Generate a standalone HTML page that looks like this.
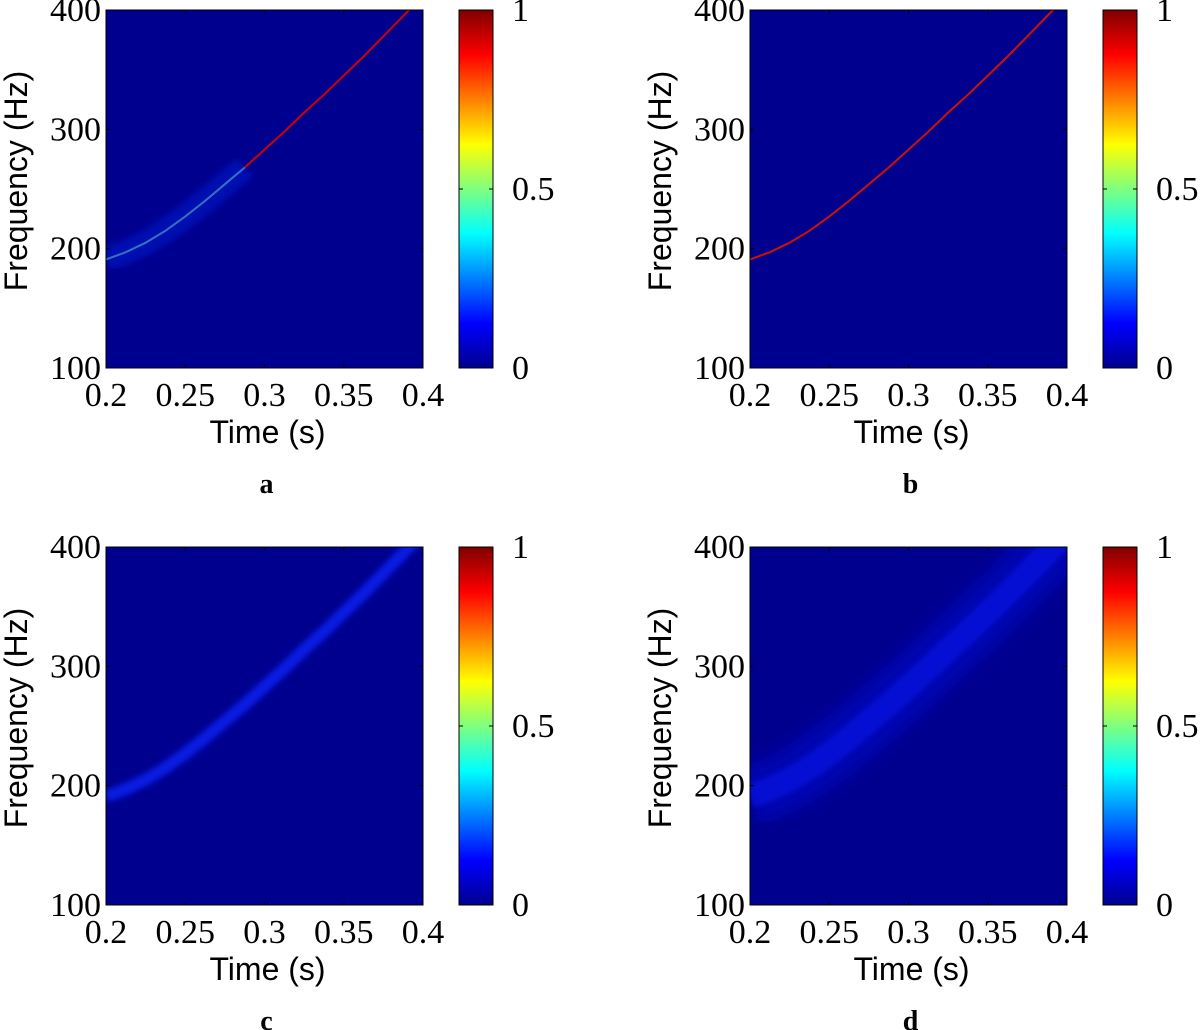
<!DOCTYPE html>
<html><head><meta charset="utf-8"><style>
body{margin:0;background:#fff}
svg{display:block}
.num{font-family:"Liberation Serif",serif;font-size:34px;fill:#000}
.lab{font-family:"Liberation Sans",sans-serif;font-size:32px;fill:#000}
.let{font-family:"Liberation Serif",serif;font-size:28px;font-weight:bold;fill:#000}
</style></head><body>
<svg id="fig" width="1200" height="1030" xmlns="http://www.w3.org/2000/svg">
<defs>
<linearGradient id="jet" x1="0" y1="1" x2="0" y2="0">
<stop offset="0" stop-color="#00008f"/><stop offset="0.125" stop-color="#0000ff"/>
<stop offset="0.375" stop-color="#00ffff"/><stop offset="0.625" stop-color="#ffff00"/>
<stop offset="0.875" stop-color="#ff0000"/><stop offset="1" stop-color="#800000"/>
</linearGradient>
<filter id="blur4"><feGaussianBlur stdDeviation="3"/></filter>
<filter id="blur8"><feGaussianBlur stdDeviation="7"/></filter>
</defs>
</svg>
<script>
const ridgeTimes=[0.2,0.2125,0.225,0.2375,0.25,0.2625,0.275,0.2875,0.3,0.3125,0.325,0.3375,0.35,0.3625,0.375,0.3875,0.4];
const ridgeFreqs=[191,197,205,215,227,240,254,268,283,298,314,329,345,361,378,395,412];
const xTicks=[0.2,0.25,0.3,0.35,0.4];
const xTickLabels=["0.2","0.25","0.3","0.35","0.4"];
const yTicks=[100,200,300,400];
const cbTicks=[0,0.5,1];
const cbTickLabels=["0","0.5","1"];
const panels=[{id:"a",dx:0,dy:0},{id:"b",dx:644,dy:0},{id:"c",dx:0,dy:537},{id:"d",dx:644,dy:537}];
const NS="http://www.w3.org/2000/svg";
const svg=document.getElementById('fig');
function el(t,a,p){const e=document.createElementNS(NS,t);for(const k in a)e.setAttribute(k,a[k]);(p||svg).appendChild(e);return e;}
panels.forEach(p=>{
  const X0=106+p.dx,Y0=10+p.dy,W=317,H=358;
  const sx=t=>X0+(t-0.2)/0.2*W, sy=f=>Y0+H-(f-100)/300*H;
  const g=el('g',{});
  
  
  const clipId='clip'+p.id;
  const cp=el('clipPath',{id:clipId},g);el('rect',{x:X0,y:Y0,width:W,height:H},cp);
  const bg=el('rect',{x:X0,y:Y0,width:W,height:H,fill:'#00008f'},g);
  
  
  const pg=el('g',{'clip-path':'url(#'+clipId+')'},g);
  const pathOf=(n)=>ridgeTimes.slice(0,n).map((t,i)=>(i?'L':'M')+sx(t).toFixed(1)+','+sy(ridgeFreqs[i]).toFixed(1)).join(' ');
  const d=pathOf(ridgeTimes.length);
  if(p.id==='a'){
    el('path',{d:pathOf(8),fill:'none',stroke:'#0030ff','stroke-width':24,opacity:0.3,filter:'url(#blur4)'},pg);
    const r=el('path',{d,fill:'none',stroke:'#d00000','stroke-width':2},pg);
    
    el('path',{d:pathOf(8),fill:'none',stroke:'#0090ff','stroke-width':2,opacity:0.8},pg);
  } else if(p.id==='b'){
    const r=el('path',{d,fill:'none',stroke:'#d01000','stroke-width':2},pg);
    
  } else if(p.id==='c'){
    const r=el('path',{d,fill:'none',stroke:'#0a28ff','stroke-width':12,opacity:0.75,filter:'url(#blur4)'},pg);
    
  } else {
    el('path',{d,fill:'none',stroke:'#0010e0','stroke-width':60,opacity:0.4,filter:'url(#blur8)'},pg);
    const r=el('path',{d,fill:'none',stroke:'#0a1cff','stroke-width':24,opacity:0.45,filter:'url(#blur4)'},pg);
    
  }
  el('rect',{x:X0,y:Y0,width:W,height:H,fill:'none',stroke:'#000','stroke-width':1},g);
  xTicks.forEach((t,i)=>{
    el('line',{x1:sx(t),x2:sx(t),y1:Y0+H,y2:Y0+H-4,stroke:'#000'},g);
    el('line',{x1:sx(t),x2:sx(t),y1:Y0,y2:Y0+4,stroke:'#000'},g);
    const tx=el('text',{x:sx(t),y:Y0+H+38,'text-anchor':'middle',class:'num'},g);tx.textContent=xTickLabels[i];
    
  });
  yTicks.forEach(f=>{
    el('line',{x1:X0,x2:X0+4,y1:sy(f),y2:sy(f),stroke:'#000'},g);
    el('line',{x1:X0+W,x2:X0+W-4,y1:sy(f),y2:sy(f),stroke:'#000'},g);
    const tx=el('text',{x:X0-5,y:sy(f)+11,'text-anchor':'end',class:'num'},g);tx.textContent=f;
    
  });
  const xt=el('text',{x:X0+W/2+3,y:Y0+H+75,'text-anchor':'middle',class:'lab'},g);xt.textContent='Time (s)';
  
  const yt=el('text',{x:0,y:0,'text-anchor':'middle',class:'lab',transform:`translate(${X0-79},${Y0+H/2-8}) rotate(-90)`},g);yt.textContent='Frequency (Hz)';
  
  const lt=el('text',{x:X0+W/2+2,y:Y0+H+125,'text-anchor':'middle',class:'let'},g);lt.textContent=p.id;
  
  const CX=459+p.dx,CW=34;
  const cb=el('rect',{x:CX,y:Y0,width:CW,height:H,fill:'url(#jet)',stroke:'#000','stroke-width':1},g);
  
  cbTicks.forEach((v,i)=>{
    const y=Y0+H-v*H;
    el('line',{x1:CX,x2:CX+4,y1:y,y2:y,stroke:'#000'},g);
    el('line',{x1:CX+CW,x2:CX+CW-4,y1:y,y2:y,stroke:'#000'},g);
    const tx=el('text',{x:CX+CW+19,y:y+11,class:'num'},g);tx.textContent=cbTickLabels[i];
    
  });
});
</script>
</body></html>
